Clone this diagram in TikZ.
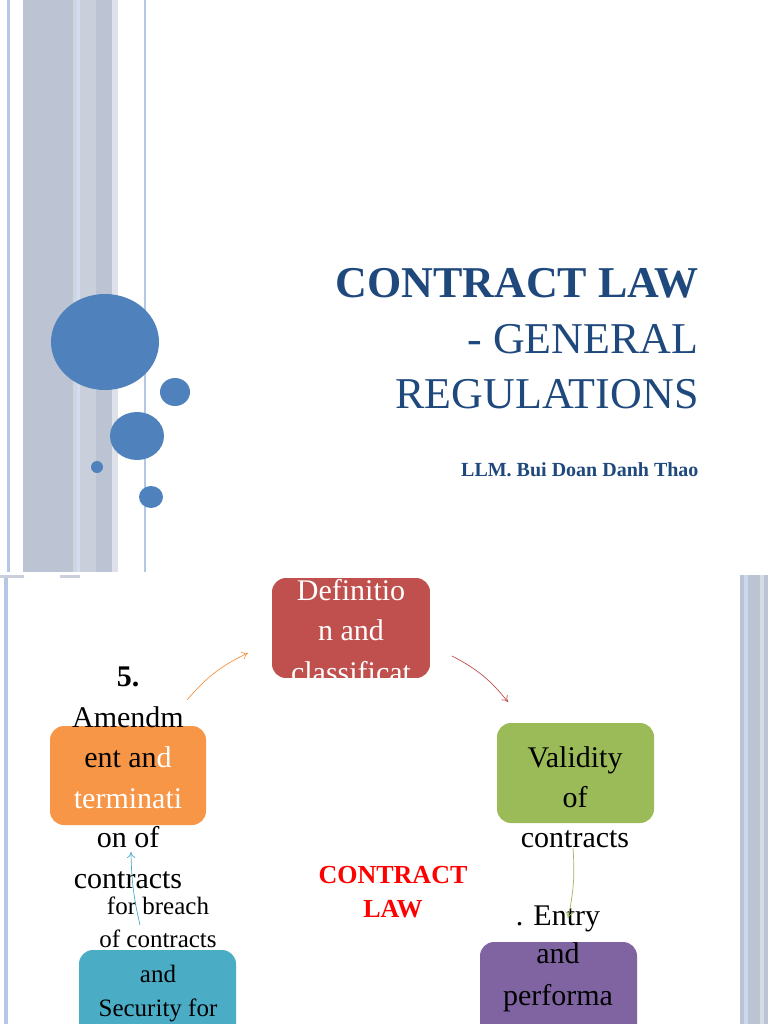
\documentclass[tikz,border=0pt]{standalone}
\usepackage{fontspec}
\setmainfont{Liberation Serif}
\usetikzlibrary{arrows.meta}
\definecolor{navy}{HTML}{1F497D}
\definecolor{band}{HTML}{BCC4D3}
\definecolor{lblue}{HTML}{B4C7E7}
\definecolor{dot}{HTML}{4F81BD}
\definecolor{cred}{HTML}{C0504D}
\definecolor{cgreen}{HTML}{9BBB59}
\definecolor{corange}{HTML}{F79646}
\definecolor{cteal}{HTML}{4BACC6}
\definecolor{cpurple}{HTML}{8064A2}
\tikzset{
 box/.style={rounded corners=14pt},
 big/.style={font=\fontsize{30}{30}\selectfont, anchor=base},
 mid/.style={font=\fontsize{25}{25}\selectfont, anchor=base},
 conn/.style={-{To[length=6pt,width=8pt]}, line width=0.7pt},
}
\begin{document}
\begin{tikzpicture}[x=1pt,y=-1pt]
\useasboundingbox (0,0) rectangle (768,1024);
\fill[white] (0,0) rectangle (768,1024);
% top slide stripes
\fill[lblue] (7,0) rectangle (10,572);
\fill[band] (23,0) rectangle (73,572);
\fill[band!70] (73,0) rectangle (77,572);
\fill[lblue!60] (77,0) rectangle (80,572);
\fill[band!80] (80,0) rectangle (96,572);
\fill[band] (96,0) rectangle (112,572);
\fill[band!50] (112,0) rectangle (118,572);
\fill[lblue] (144,0) rectangle (146,572);
% circles
\fill[dot] (105,342) ellipse [x radius=54, y radius=48] node (c1) {};
\fill[dot] (175,392) ellipse [x radius=15, y radius=14] node (c2) {};
\fill[dot] (137,436) ellipse [x radius=27, y radius=24] node (c3) {};
\fill[dot] (97,467) circle [radius=6] node (c4) {};
\fill[dot] (151,497) ellipse [x radius=12, y radius=11] node (c5) {};
% title
\node[anchor=base east, text=navy, font=\fontsize{44}{44}\selectfont\bfseries] (t1) at (702,297) {CONTRACT LAW};
\node[anchor=base east, text=navy, font=\fontsize{44}{44}\selectfont] (t2) at (702,353) {- GENERAL};
\node[anchor=base east, text=navy, font=\fontsize{44}{44}\selectfont] (t3) at (702,408) {REGULATIONS};
\node[anchor=base east, text=navy, font=\fontsize{20}{20}\selectfont\bfseries] (t4) at (702,476) {LLM. Bui Doan Danh Thao};
% bottom slide
\fill[lblue] (4,575) rectangle (8,1024);
\fill[band] (740,575) rectangle (768,1024);
\fill[lblue!70] (744,575) rectangle (748,1024);
\fill[band!60] (760,575) rectangle (764,1024);
\fill[band!80] (0,575) rectangle (24,578);
\fill[band!80] (60,575) rectangle (80,578);
% red box
\begin{scope}
\clip[box] (272,578) rectangle (430,678);
\fill[cred] (272,560) rectangle (430,678);
\node[big, text=white] (d1) at (351,600) {Definitio};
\node[big, text=white] (d2) at (351,640) {n and};
\node[big, text=white] (d3) at (351,682) {classificat};
\end{scope}
% green box
\fill[cgreen, box] (497,723) rectangle (654,823);
\node[big] (v1) at (575,767) {Validity};
\node[big] (v2) at (575,807) {of};
\node[big] (v3) at (575,847) {contracts};
% orange box
\fill[corange, box] (50,726) rectangle (206,825);
\node[big, font=\fontsize{30}{30}\selectfont\bfseries] (a0) at (128,686) {5.};
\node[big] (a1) at (128,727) {Amendm};
\node[big] (a2) at (128,767) {ent an\textcolor{white}{d}};
\node[big, text=white] (a3) at (128,808) {terminati};
\node[big] (a4) at (128,847) {on of};
\node[big] (a5) at (128,888) {contracts};
% teal box
\fill[cteal, box] (79,950) rectangle (236,1040);
\node[mid] (s1) at (158,914) {for breach};
\node[mid] (s2) at (158,947) {of contracts};
\node[mid] (s3) at (158,982) {and};
\node[mid] (s4) at (158,1016) {Security for};
% purple box
\fill[cpurple, box] (480,942) rectangle (637,1040);
\node[big] (p1) at (558,925) {. Entry};
\node[big] (p2) at (558,963) {and};
\node[big] (p3) at (558,1005) {performa};
% center
\node[anchor=base, text=red, font=\fontsize{26}{26}\selectfont\bfseries] (m1) at (393,883) {CONTRACT};
\node[anchor=base, text=red, font=\fontsize{26}{26}\selectfont\bfseries] (m2) at (393,917) {LAW};
% connectors
\coordinate (o1) at (187,700); \coordinate (o2) at (248,653);
\coordinate (r1) at (452,656); \coordinate (r2) at (508,702);
\coordinate (g1) at (573,848); \coordinate (g2) at (568,918);
\coordinate (b1) at (140,925); \coordinate (b2) at (131,852);
\draw[conn, corange] (o1) to[bend left=12] (o2);
\draw[conn, cred] (r1) to[bend left=12] (r2);
\draw[conn, cgreen] (g1) to[bend left=8] (g2);
\draw[conn, cteal] (b1) to[bend left=6] (b2);
\end{tikzpicture}
\end{document}
